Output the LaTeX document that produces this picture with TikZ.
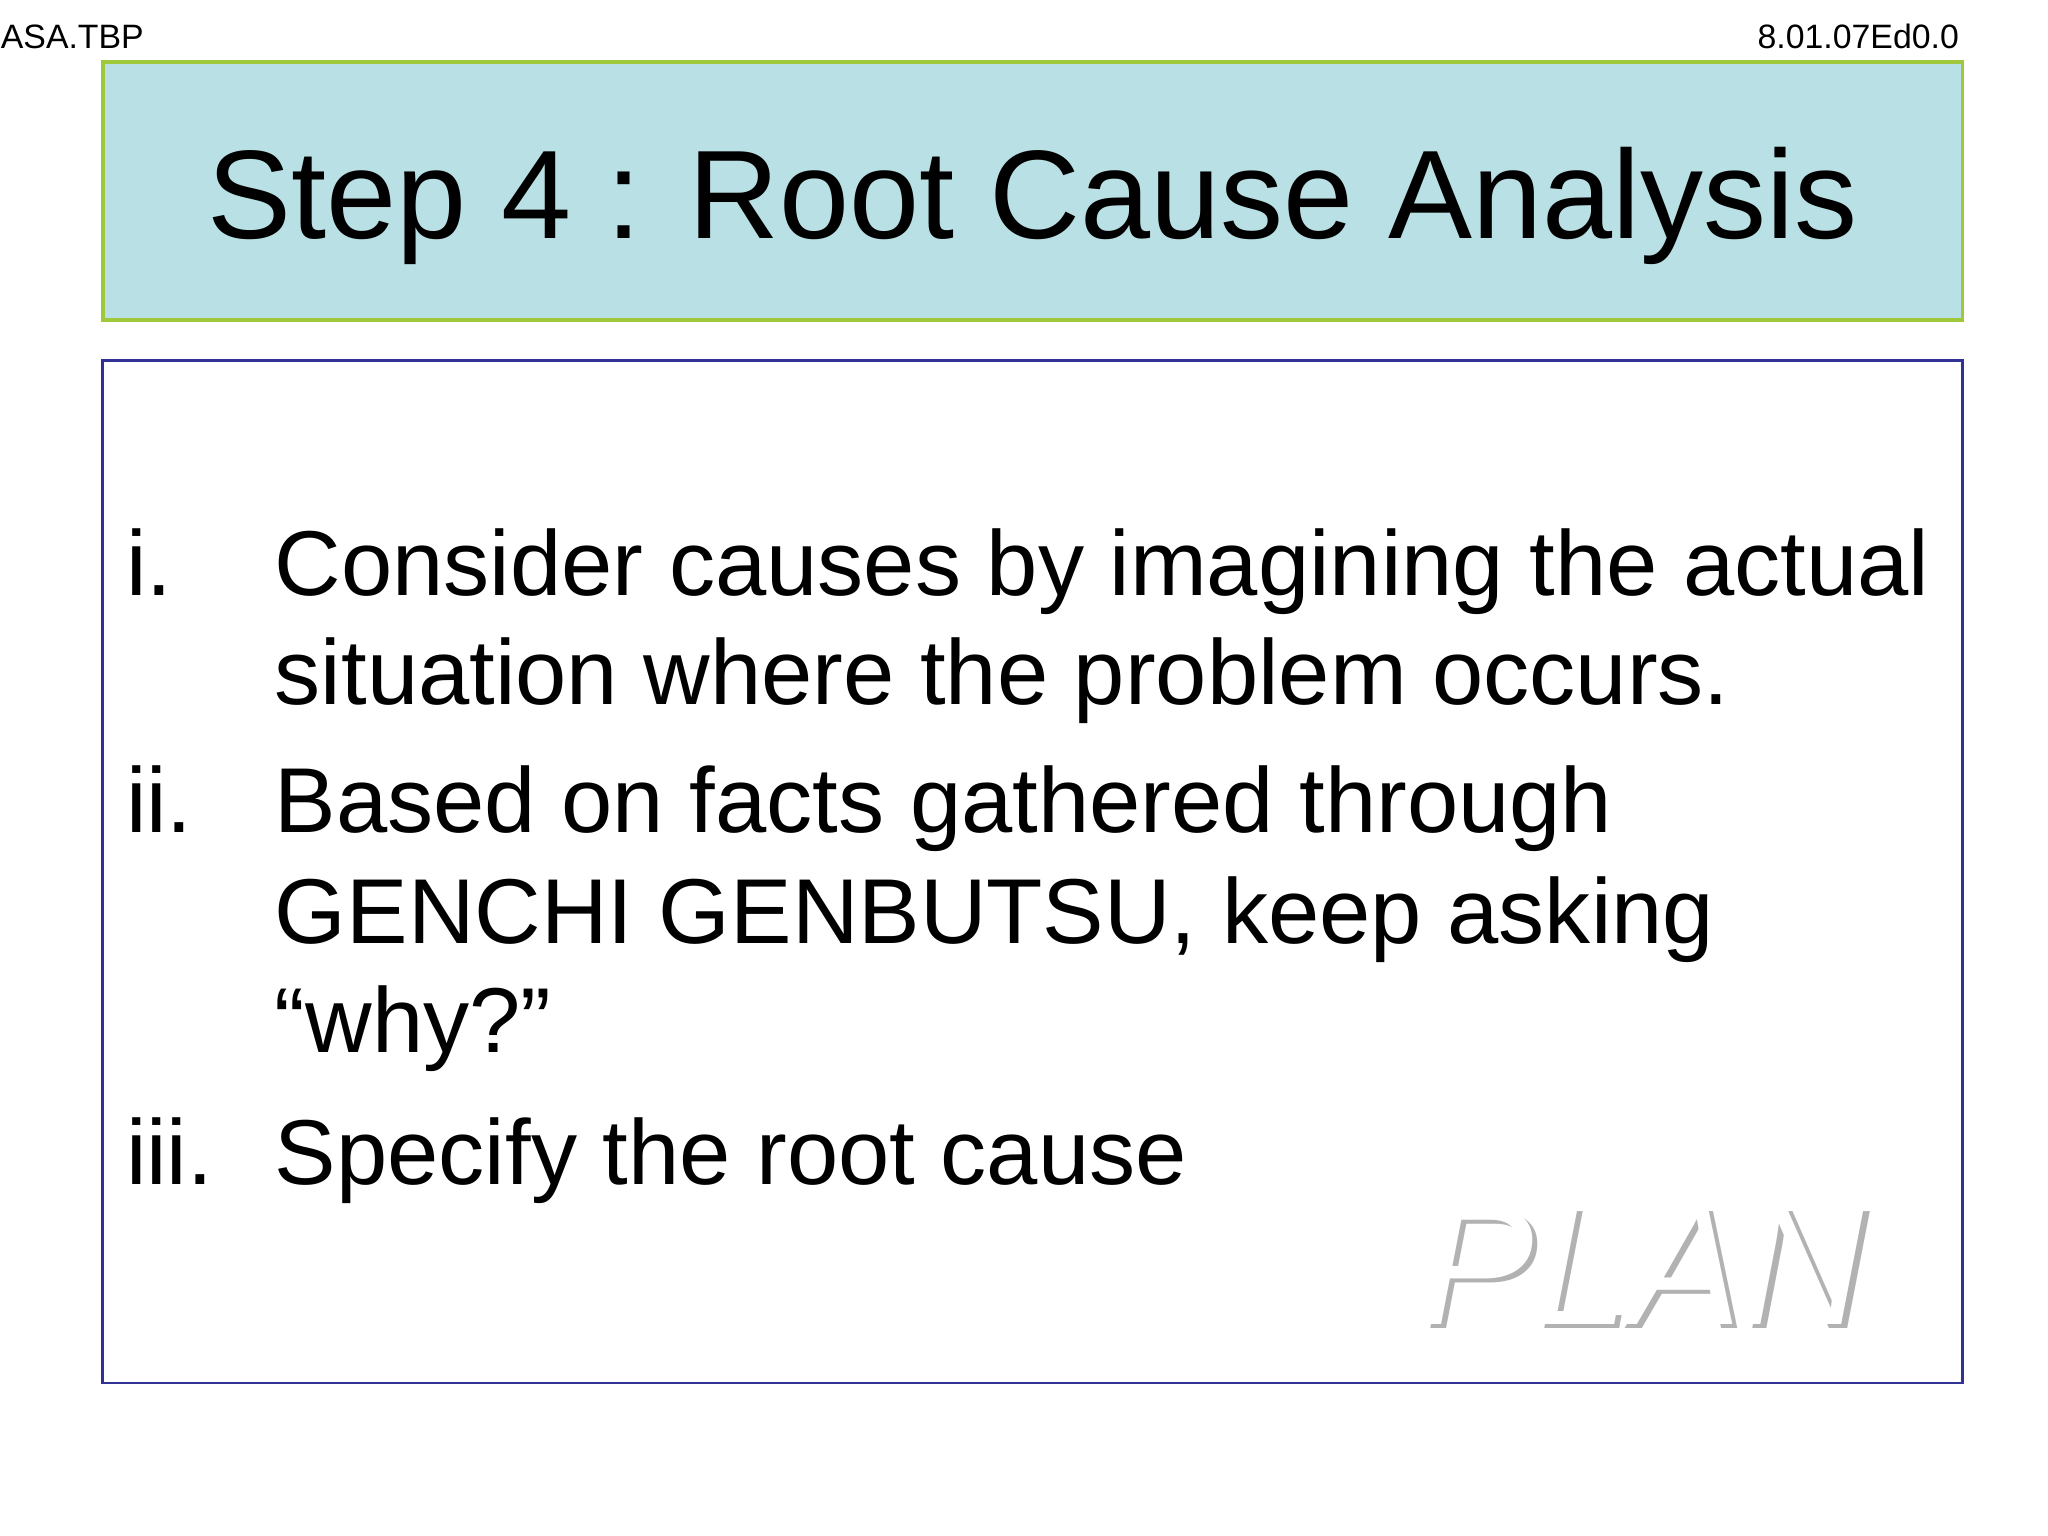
\documentclass[tikz,border=0pt]{standalone}
\usepackage{fontspec}
\setmainfont{Liberation Sans}
\begin{document}
\begin{tikzpicture}[x=0.01cm,y=-0.01cm,
  body/.style={anchor=base west,inner sep=0pt,font=\fontsize{19.9pt}{22pt}\selectfont},
  hdr/.style={inner sep=0pt,font=\fontsize{7.3pt}{8pt}\selectfont}]
\useasboundingbox (0,0) rectangle (1555,1166);
\fill[white] (0,0) rectangle (1555,1166);
\node[hdr,anchor=base west] (h1) at (0,37) {ASA.TBP};
\node[hdr,anchor=base east] (h2) at (1488,37) {8.01.07Ed0.0};
\draw[fill={rgb,255:red,185;green,224;blue,228},draw={rgb,255:red,160;green,200;blue,60},line width=0.8pt] (78,47) rectangle (1490,243);
\node[inner sep=0pt,anchor=base,font=\fontsize{27.2pt}{30pt}\selectfont] (title) at (784,181) {Step 4 : Root Cause Analysis};
\draw[draw={rgb,255:red,50;green,50;blue,150},line width=0.6pt] (78,274) rectangle (1490,1050);
\node[body] (n1) at (95,452) {i.};
\node[body] (l1) at (208,452) {Consider causes by imagining the actual};
\node[body] (l2) at (208,535) {situation where the problem occurs.};
\node[body] (n2) at (95,632) {ii.};
\node[body] (l3) at (208,632) {Based on facts gathered through};
\node[body] (l4) at (208,716) {GENCHI GENBUTSU, keep asking};
\node[body] (l5) at (208,799) {“why?”};
\node[body] (n3) at (95,899) {iii.};
\node[body] (l6) at (208,899) {Specify the root cause};
\node[anchor=base west,inner sep=0pt,text=gray!60,font=\itshape\fontsize{36.7pt}{40pt}\selectfont] (ps) at (1082,1009) {PLAN};
\node[anchor=base west,inner sep=0pt,text=white,font=\itshape\fontsize{36.7pt}{40pt}\selectfont] (p) at (1078,1006) {PLAN};
\end{tikzpicture}
\end{document}
